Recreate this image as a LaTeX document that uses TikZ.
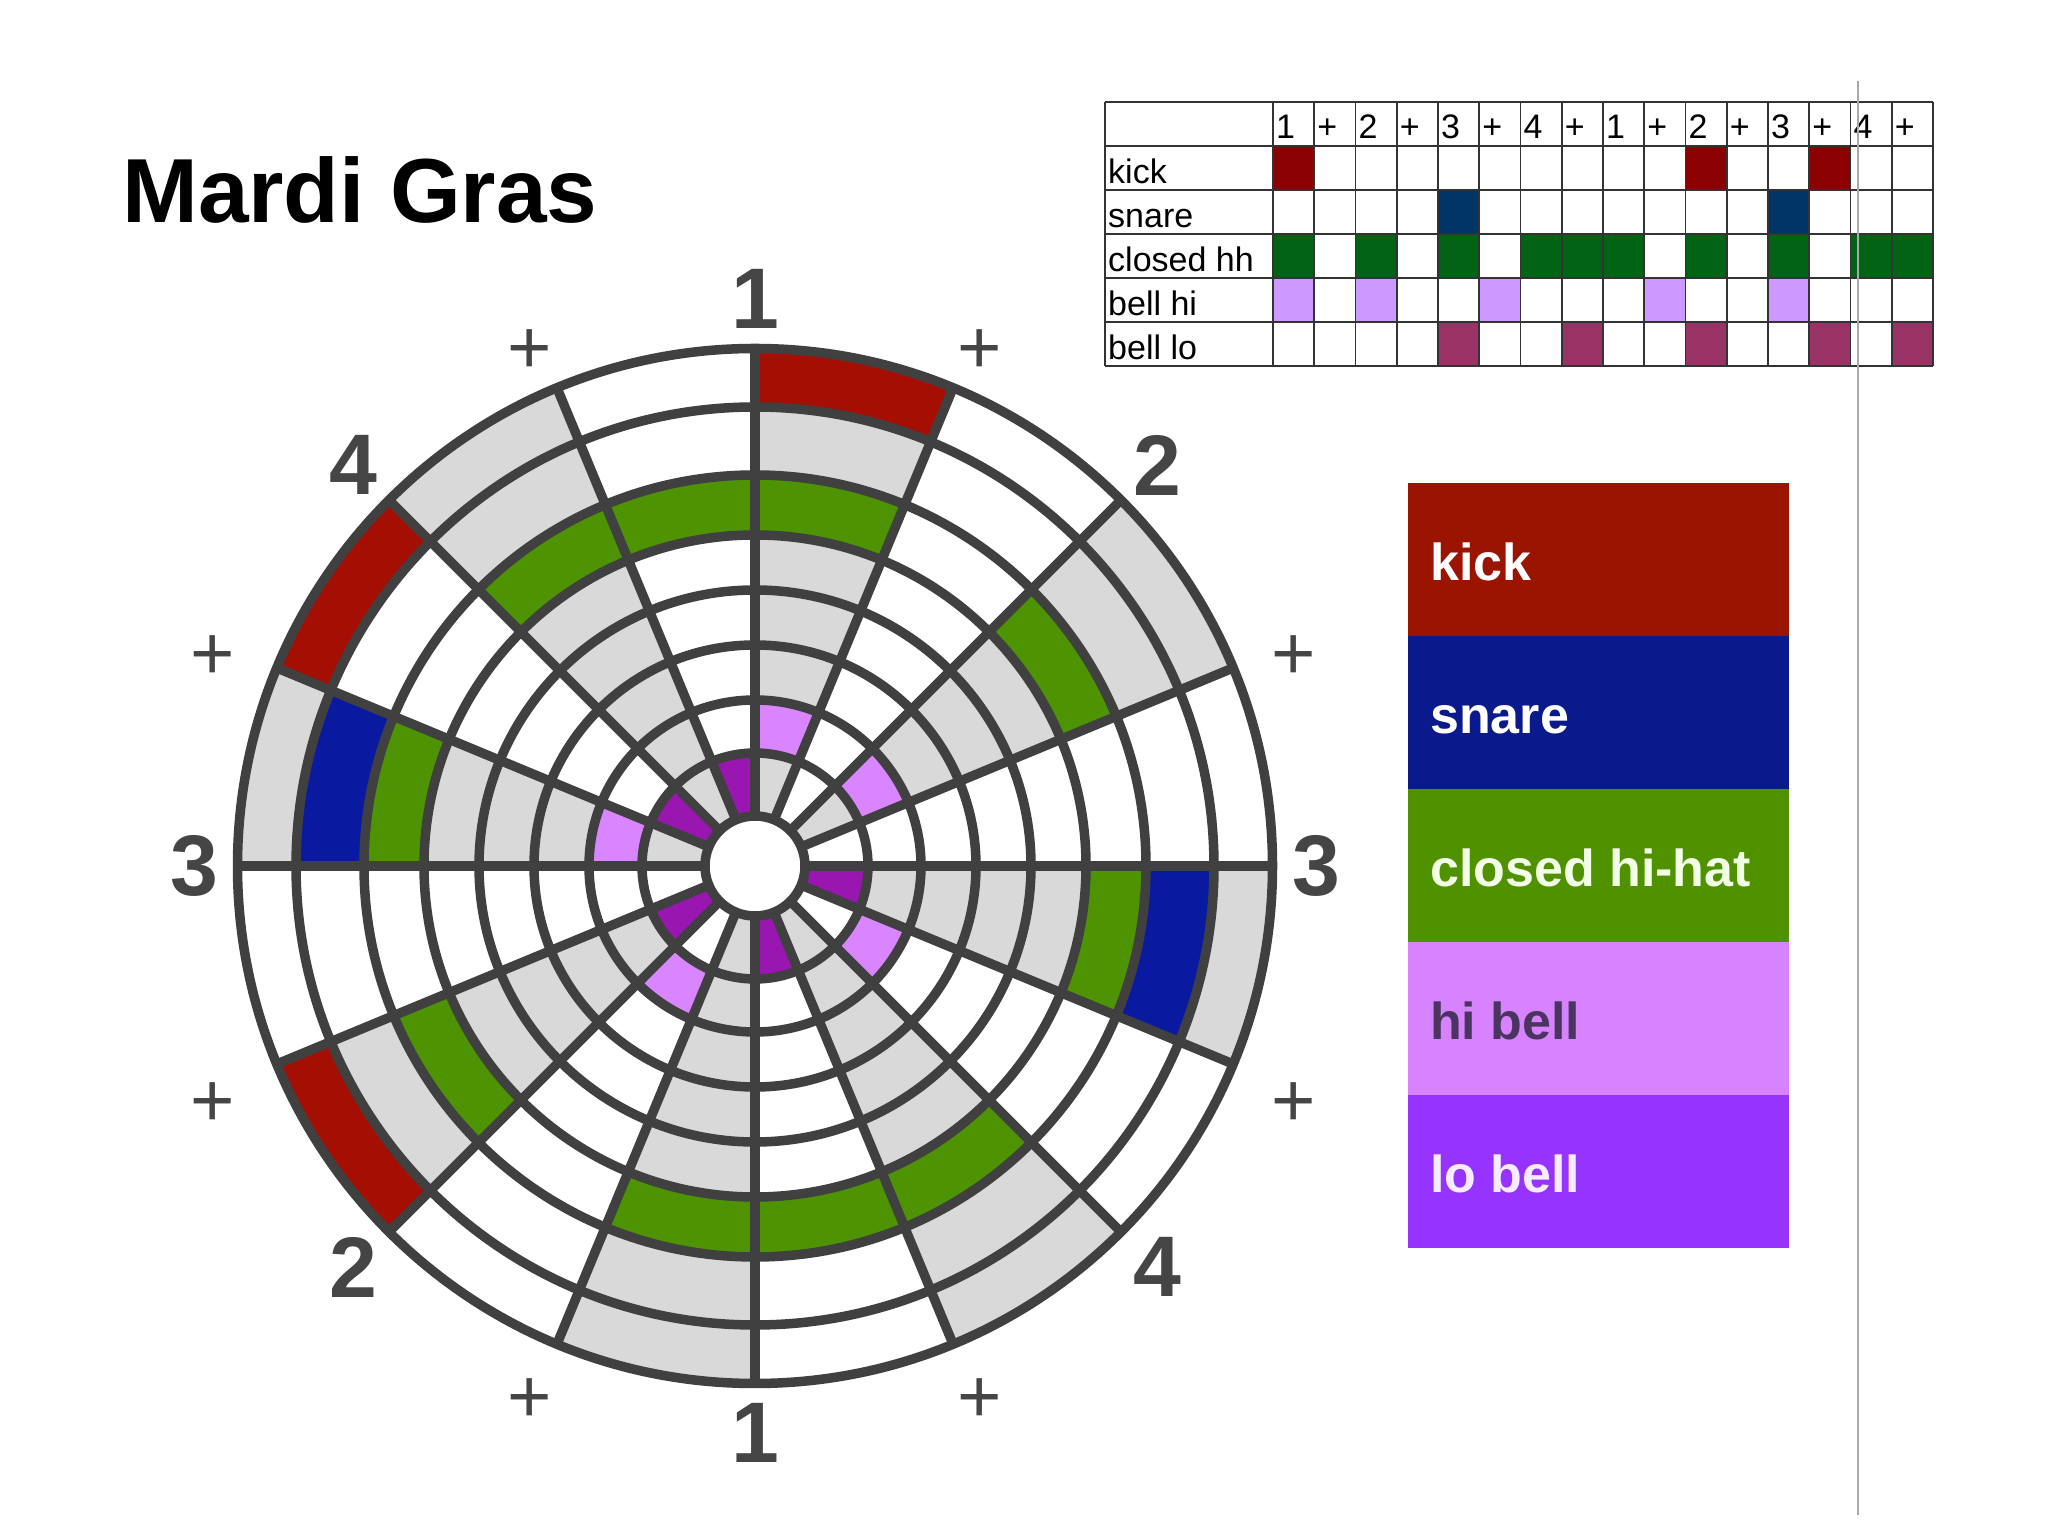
\documentclass[tikz,border=0pt]{standalone}
\usepackage{fontspec}
\setmainfont{Liberation Sans}
\definecolor{wline}{HTML}{404040}
\definecolor{labgrey}{HTML}{454545}
\definecolor{cw}{HTML}{FFFFFF}
\definecolor{cg}{HTML}{D9D9D9}
\definecolor{ck}{HTML}{A50E03}
\definecolor{cs}{HTML}{0A1AA0}
\definecolor{ch}{HTML}{4E9302}
\definecolor{cb}{HTML}{D985FF}
\definecolor{cl}{HTML}{9A16B0}
\definecolor{tk}{HTML}{8B0000}
\definecolor{ts}{HTML}{003366}
\definecolor{th}{HTML}{006414}
\definecolor{tb}{HTML}{CC99FF}
\definecolor{tl}{HTML}{993366}
\definecolor{tabline}{HTML}{333333}
\definecolor{lk}{HTML}{9B1400}
\definecolor{ls}{HTML}{0A198C}
\definecolor{lh}{HTML}{509100}
\definecolor{lb}{HTML}{D782FF}
\definecolor{ll}{HTML}{9633FF}
\definecolor{lhtext}{HTML}{F2FFE6}
\definecolor{lbtext}{HTML}{4A3560}
\definecolor{lltext}{HTML}{F6ECFF}
\definecolor{pageline}{HTML}{A8A8A8}
\tikzset{
  ringline/.style={line width=9.5pt, draw=wline},
  numlabel/.style={text=labgrey, font=\fontsize{86}{90}\selectfont\bfseries, inner sep=0pt},
  pluslabel/.style={text=labgrey, font=\fontsize{76}{80}\selectfont, inner sep=0pt},
  tabtext/.style={font=\fontsize{34}{38}\selectfont, inner sep=0pt, anchor=base west},
  tabgrid/.style={draw=tabline, line width=1.6pt},
  legbox/.style={draw=none, minimum width=381pt, minimum height=153pt, inner sep=0pt, anchor=north west},
  legtext/.style={font=\fontsize{52}{56}\selectfont\bfseries, inner sep=0pt, anchor=base west},
  titletext/.style={font=\fontsize{91}{100}\selectfont\bfseries, inner sep=0pt, anchor=base west}
}
\begin{document}
\begin{tikzpicture}[x=1pt,y=1pt]
\useasboundingbox (0,0) rectangle (2048,1536);
\fill[white] (0,0) rectangle (2048,1536);

% title
\node[titletext] (title) at (122,1313) {Mardi Gras};

% wheel
\begin{scope}[shift={(755,670)}]
\foreach \ro/\ri/\cols in {
  517.5/459/{ck,cw,cg,cw,cg,cw,cg,cw,cg,cw,ck,cw,cg,ck,cg,cw},
  459/391/{cg,cw,cg,cw,cs,cw,cg,cw,cg,cw,cg,cw,cs,cw,cg,cw},
  391/331/{ch,cw,ch,cw,ch,cw,ch,ch,ch,cw,ch,cw,ch,cw,ch,ch},
  331/276/{cg,cw,cg,cw,cg,cw,cg,cw,cg,cw,cg,cw,cg,cw,cg,cw},
  276/221/{cg,cw,cg,cw,cg,cw,cg,cw,cg,cw,cg,cw,cg,cw,cg,cw},
  221/166/{cg,cw,cg,cw,cg,cw,cg,cw,cg,cw,cg,cw,cg,cw,cg,cw},
  166/113/{cb,cw,cb,cw,cg,cb,cg,cw,cg,cb,cg,cw,cb,cw,cg,cw},
  113/50/{cg,cw,cg,cw,cl,cw,cg,cl,cg,cw,cl,cw,cg,cl,cg,cl}}
{
  \foreach \col [count=\k from 0] in \cols {
    \pgfmathsetmacro\aa{90-22.5*\k}
    \pgfmathsetmacro\bb{\aa-22.5}
    \fill[\col] (\aa:\ro) arc[start angle=\aa, end angle=\bb, radius=\ro]
      -- (\bb:\ri) arc[start angle=\bb, end angle=\aa, radius=\ri] -- cycle;
  }
}
\foreach \k in {0,...,15}
  \draw[ringline] (90-22.5*\k:50) -- (90-22.5*\k:517.5);
\foreach \r in {517.5,459,391,331,276,221,166,113,50}
  \draw[ringline] (0,0) circle[radius=\r];

% beat labels
\foreach \t/\px/\py [count=\i] in {1/0/567, 2/402/401, 3/561/0, 4/402/-401,
    1/0/-567, 2/-402/-401, 3/-561/0, 4/-402/401}
  \node[numlabel] (num\i) at (\px,\py) {\t};
\foreach \px/\py [count=\i] in {225/514, 539/208, 539/-239, 225/-535,
    -225/-535, -542/-239, -542/208, -225/514}
  \node[pluslabel] (plus\i) at (\px,\py) {+};
\end{scope}

% table
\foreach \row/\colr/\lst in {1/tk/{0,10,13}, 2/ts/{4,12},
    3/th/{0,2,4,6,7,8,10,12,14,15}, 4/tb/{0,2,5,9,12}, 5/tl/{4,7,10,13,15}}
  \foreach \c in \lst
    \fill[\colr] (1273+41.25*\c, 1434-44*\row) rectangle ++(41.25,-44);
\foreach \r in {0,...,6}
  \draw[tabgrid] (1105,1434-44*\r) -- (1933,1434-44*\r);
\draw[tabgrid] (1105,1434) -- (1105,1170);
\foreach \c in {0,...,16}
  \draw[tabgrid] (1273+41.25*\c,1434) -- (1273+41.25*\c,1170);
\foreach \t [count=\r] in {kick,snare,closed hh,bell hi,bell lo}
  \node[tabtext] (rowlab\r) at (1108, 1434-44*\r-38) {\t};
\foreach \t [count=\c from 0] in {1,+,2,+,3,+,4,+,1,+,2,+,3,+,4,+}
  \node[tabtext] (head\c) at (1273+41.25*\c+3, 1434-37) {\t};

% legend
\foreach \colr/\txtc/\t [count=\i from 0] in {lk/white/kick, ls/white/snare,
    lh/lhtext/closed hi-hat, lb/lbtext/hi bell, ll/lltext/lo bell} {
  \node[legbox, fill=\colr] (legbox\i) at (1408, 1053-153*\i) {};
  \node[legtext, text=\txtc] (legtext\i) at (1430, 1053-153*\i-98) {\t};
}

% page edge line
\draw[pageline, line width=2.2pt] (1858,1455) -- (1858,21);
\end{tikzpicture}
\end{document}
